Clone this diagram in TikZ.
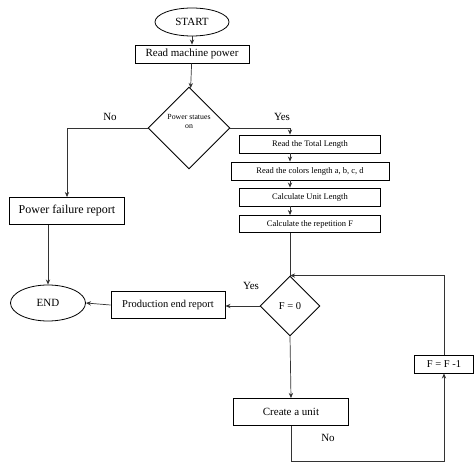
\documentclass[tikz,border=0pt]{standalone}
\usepackage{fontspec}
\setmainfont{Liberation Serif}
\usepackage{tikz}
\usetikzlibrary{arrows.meta,shapes.geometric}
\tikzset{>={Stealth[length=1.8mm,width=1.5mm]}}

\begin{document}
\begin{tikzpicture}[x=1pt,y=-1pt,
		term/.style={ellipse, draw=black, line width=0.8pt, inner sep=0pt, font=\fontsize{11}{12}\selectfont},
		proc/.style={rectangle, draw=black, line width=0.8pt, inner sep=0pt, minimum height=18pt, font=\fontsize{8.5}{10}\selectfont},
		bigproc/.style={rectangle, draw=black, line width=0.8pt, inner sep=0pt, minimum height=27pt, font=\fontsize{11}{12}\selectfont},
		test/.style={diamond, draw=black, line width=0.9pt, inner sep=0pt, align=center},
		link/.style={draw=black!80, line width=0.7pt},
		lbl/.style={font=\fontsize{11}{12}\selectfont}]
		\useasboundingbox (0,0) rectangle (474,476);
		\node[term, minimum width=74pt, minimum height=28pt] (start) at (192,22) {START};
		\node[proc, minimum width=114pt, font=\fontsize{11}{12}\selectfont] (readpow) at (192,54) {Read machine power};
		\node[test, minimum width=82pt, minimum height=82pt, font=\fontsize{7.8}{9}\selectfont] (powon) at (189,128) {Power statues\\on\\[4pt]};
		\coordinate (spine) at (290,0);
		\node[proc, minimum width=141pt] (total) at (310,144) {Read the Total Length};
		\node[proc, minimum width=158pt] (colors) at (310,171) {Read the colors length a, b, c, d};
		\node[proc, minimum width=141pt] (unitlen) at (310,197) {Calculate Unit Length};
		\node[proc, minimum width=141pt, minimum height=17pt] (rep) at (310,224) {Calculate the repetition F};
		\node[bigproc, minimum width=115pt, font=\fontsize{12}{13}\selectfont] (pfail) at (67,211) {Power failure report};
		\node[term, minimum width=75pt, minimum height=36pt] (endn) at (48,303) {END};
		\node[bigproc, minimum width=114pt, font=\fontsize{10.5}{12}\selectfont] (prodend) at (168,305) {Production end report};
		\node[test, minimum width=60pt, minimum height=60pt, font=\fontsize{10.5}{12}\selectfont] (fzero) at (290,306) {F = 0};
		\node[bigproc, minimum width=115pt] (create) at (291,412) {Create a unit};
		\node[proc, minimum width=59pt, font=\fontsize{10.5}{12}\selectfont] (fdec) at (444,364) {F = F -1};
		\coordinate (bot) at (0,461);

		\node[lbl] (no1) at (110,117) {No};
		\node[lbl] (yes1) at (282,117) {Yes};
		\node[lbl] (yes2) at (251,286) {Yes};
		\node[lbl] (no2) at (328,438) {No};

		\path (start) edge[link, ->] (readpow);
		\path (readpow) edge[link, ->] (powon);
		\draw[link, ->] (powon.west) -| (pfail.north);
		\draw[link, ->] (powon.east) -| (spine |- total.north);
		\draw[link, ->] (spine |- total.south) -- (spine |- colors.north);
		\draw[link, ->] (spine |- colors.south) -- (spine |- unitlen.north);
		\draw[link, ->] (spine |- unitlen.south) -- (spine |- rep.north);
		\draw[link] (spine |- rep.south) -- (fzero.north);
		\draw[link, ->] (pfail.south -| endn.north) -- (endn.north);
		\draw[link, ->] (fzero.west) -- (fzero.west -| prodend.east);
		\draw[link, ->] (prodend.west) -- (endn.east);
		\draw[link, ->] (fzero.south) -- (create.north);
		\draw[link, ->] (create.south) |- (bot -| fdec.south) -- (fdec.south);
		\draw[link, ->] (fdec.north) |- (fzero.north);
	\end{tikzpicture}
\end{document}
